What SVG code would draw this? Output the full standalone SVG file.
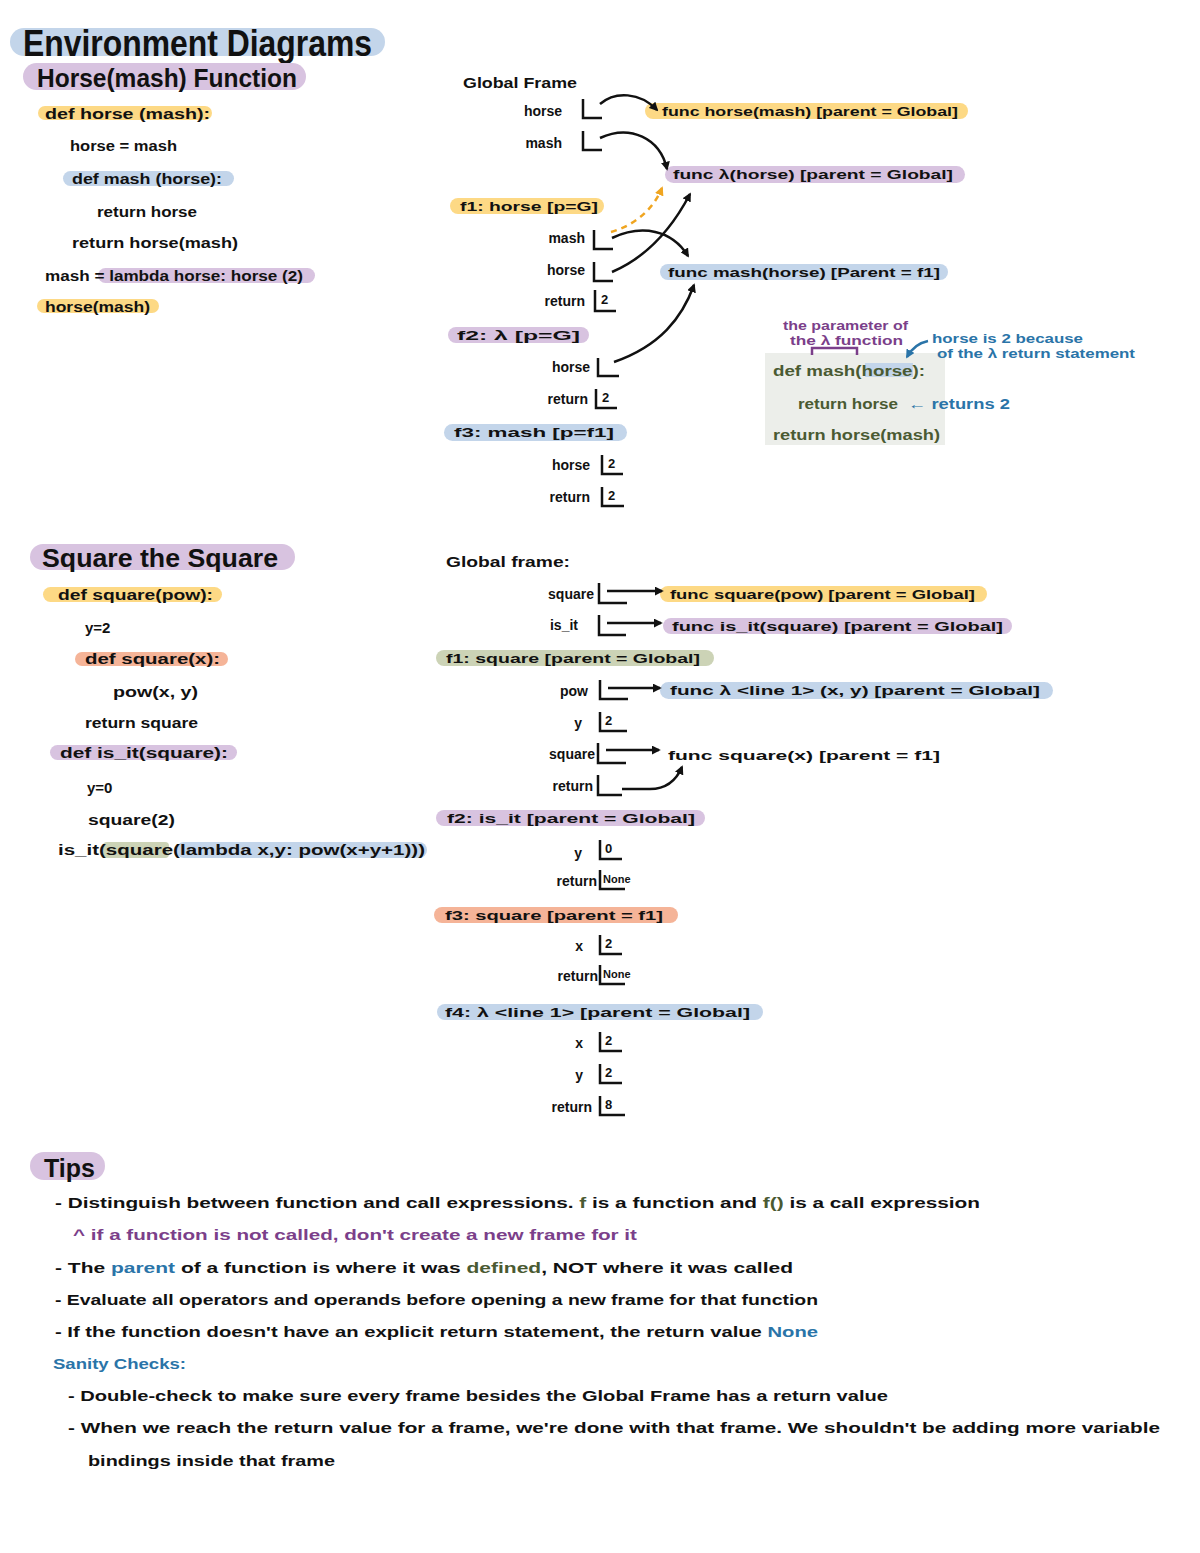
<svg xmlns="http://www.w3.org/2000/svg" width="1200" height="1553" viewBox="0 0 1200 1553">
<defs>
<style>
.t{font-family:"Liberation Sans","DejaVu Sans",Arial,sans-serif;font-weight:bold;fill:#111;font-size:14px}
.s{font-size:13px}
.v{font-size:13px}
.f11{font-size:11px}.f12{font-size:12px}.f15{font-size:15px}.f25{font-size:25px}.f26{font-size:26px}.f36{font-size:36px}
.hb{fill:#c3d5ea}.hp{fill:#d8c3e0}.ho{fill:#fdd985}.hs{fill:#f5b498}.hg{fill:#ccd3b6}
.box{fill:none;stroke:#111;stroke-width:2.5}
.arr{fill:none;stroke:#111;stroke-width:2.5;marker-end:url(#ah)}
.pu{fill:#7b3f8a}.bl{fill:#2a74a8}.gr{fill:#4a5a32}
</style>
<marker id="ah" viewBox="0 0 10 10" refX="8" refY="5" markerWidth="9" markerHeight="9" markerUnits="userSpaceOnUse" orient="auto"><path d="M0,0 L10,5 L0,10 z" fill="#111"/></marker>
<marker id="aho" viewBox="0 0 10 10" refX="8" refY="5" markerWidth="9" markerHeight="9" markerUnits="userSpaceOnUse" orient="auto"><path d="M0,0 L10,5 L0,10 z" fill="#f0a520"/></marker>
<marker id="ahb" viewBox="0 0 10 10" refX="8" refY="5" markerWidth="9" markerHeight="9" markerUnits="userSpaceOnUse" orient="auto"><path d="M0,0 L10,5 L0,10 z" fill="#2a74a8"/></marker>
</defs>
<rect width="1200" height="1553" fill="#fff"/>

<g id="title">
<rect class="hb" x="10" y="28" width="375" height="28" rx="14"/>
<text class="t f36" x="23" y="56" textLength="349" lengthAdjust="spacingAndGlyphs">Environment Diagrams</text>
<rect class="hp" x="23" y="63" width="283" height="27" rx="13.5"/>
<text class="t f25" x="37" y="87" textLength="260" lengthAdjust="spacingAndGlyphs">Horse(mash) Function</text>
</g>

<g id="code-horse">
<rect class="ho" x="38" y="106" width="174" height="14" rx="7"/>
<text class="t" x="45" y="119" textLength="165" lengthAdjust="spacingAndGlyphs">def horse (mash):</text>
<text class="t" x="70" y="151" textLength="107" lengthAdjust="spacingAndGlyphs">horse = mash</text>
<rect class="hb" x="63" y="171" width="171" height="15" rx="7.5"/>
<text class="t" x="72" y="184" textLength="150" lengthAdjust="spacingAndGlyphs">def mash (horse):</text>
<text class="t" x="97" y="217" textLength="100" lengthAdjust="spacingAndGlyphs">return horse</text>
<text class="t" x="72" y="248" textLength="166" lengthAdjust="spacingAndGlyphs">return horse(mash)</text>
<rect class="hp" x="98" y="268" width="217" height="15" rx="7.5"/>
<text class="t" x="45" y="281" textLength="258" lengthAdjust="spacingAndGlyphs">mash = lambda horse: horse (2)</text>
<rect class="ho" x="37" y="299" width="122" height="14" rx="7"/>
<text class="t" x="45" y="312" textLength="105" lengthAdjust="spacingAndGlyphs">horse(mash)</text>
</g>

<g id="global-frame-1">
<text class="t" x="463" y="88" textLength="114" lengthAdjust="spacingAndGlyphs">Global Frame</text>
<text class="t" x="562" y="116" text-anchor="end">horse</text>
<path class="box" d="M583,99 V118 H602"/>
<text class="t" x="562" y="148" text-anchor="end">mash</text>
<path class="box" d="M583,131 V150 H602"/>
</g>
<g id="func-horse">
<rect class="ho" x="645" y="103" width="323" height="16" rx="8"/>
<text class="t s" x="662" y="116" textLength="296" lengthAdjust="spacingAndGlyphs">func horse(mash) [parent = Global]</text>
</g>
<g id="func-lambda">
<rect class="hp" x="665" y="166" width="300" height="17" rx="8.5"/>
<text class="t s" x="673" y="179" textLength="280" lengthAdjust="spacingAndGlyphs">func λ(horse) [parent = Global]</text>
</g>
<g id="func-mash">
<rect class="hb" x="660" y="264" width="288" height="16" rx="8"/>
<text class="t s" x="668" y="277" textLength="272" lengthAdjust="spacingAndGlyphs">func mash(horse) [Parent = f1]</text>
</g>

<g id="frame-f1-top">
<rect class="ho" x="450" y="198" width="154" height="16" rx="8"/>
<text class="t s" x="460" y="211" textLength="138" lengthAdjust="spacingAndGlyphs">f1: horse [p=G]</text>
<text class="t" x="585" y="243" text-anchor="end">mash</text>
<path class="box" d="M594,230 V249 H613"/>
<text class="t" x="585" y="275" text-anchor="end">horse</text>
<path class="box" d="M594,262 V281 H613"/>
<text class="t" x="585" y="306" text-anchor="end">return</text>
<path class="box" d="M595,290 V311 H616"/>
<text class="t v" x="601" y="304">2</text>
</g>
<g id="frame-f2-top">
<rect class="hp" x="448" y="327" width="141" height="16" rx="8"/>
<text class="t s" x="457" y="340" textLength="123" lengthAdjust="spacingAndGlyphs">f2: λ [p=G]</text>
<text class="t" x="590" y="372" text-anchor="end">horse</text>
<path class="box" d="M598,358 V376 H619"/>
<text class="t" x="588" y="404" text-anchor="end">return</text>
<path class="box" d="M596,389 V408 H617"/>
<text class="t v" x="602" y="402">2</text>
</g>
<g id="frame-f3-top">
<rect class="hb" x="444" y="424" width="183" height="17" rx="8.5"/>
<text class="t s" x="454" y="437" textLength="160" lengthAdjust="spacingAndGlyphs">f3: mash [p=f1]</text>
<text class="t" x="590" y="470" text-anchor="end">horse</text>
<path class="box" d="M602,455 V474 H623"/>
<text class="t v" x="608" y="468">2</text>
<text class="t" x="590" y="502" text-anchor="end">return</text>
<path class="box" d="M602,487 V506 H624"/>
<text class="t v" x="608" y="500">2</text>
</g>

<g id="annotation">
<rect x="765" y="353" width="180" height="92" fill="#eceeea"/>
<text class="t pu f12" x="783" y="330" textLength="125" lengthAdjust="spacingAndGlyphs">the parameter of</text>
<text class="t pu f12" x="790" y="345" textLength="113" lengthAdjust="spacingAndGlyphs">the λ function</text>
<path d="M812,355 V348 H857 V355" fill="none" stroke="#7b3f8a" stroke-width="2.5"/>
<rect class="hb" x="865" y="363" width="48" height="14"/>
<text class="t gr" x="773" y="376" textLength="152" lengthAdjust="spacingAndGlyphs">def mash(horse):</text>
<text class="t gr" x="798" y="409" textLength="100" lengthAdjust="spacingAndGlyphs">return horse</text>
<text class="t bl" x="908" y="409" textLength="102" lengthAdjust="spacingAndGlyphs">← returns 2</text>
<text class="t gr" x="773" y="440" textLength="167" lengthAdjust="spacingAndGlyphs">return horse(mash)</text>
<text class="t bl f12" x="932" y="343" textLength="151" lengthAdjust="spacingAndGlyphs">horse is 2 because</text>
<text class="t bl f12" x="937" y="358" textLength="198" lengthAdjust="spacingAndGlyphs">of the λ return statement</text>
</g>

<g id="section-square">
<rect class="hp" x="30" y="544" width="265" height="26" rx="13"/>
<text class="t f26" x="42" y="567" textLength="236" lengthAdjust="spacingAndGlyphs">Square the Square</text>
<rect class="ho" x="43" y="587" width="179" height="15" rx="7.5"/>
<text class="t" x="58" y="600" textLength="155" lengthAdjust="spacingAndGlyphs">def square(pow):</text>
<text class="t f15" x="85" y="633">y=2</text>
<rect class="hs" x="75" y="652" width="153" height="14" rx="7"/>
<text class="t" x="85" y="664" textLength="135" lengthAdjust="spacingAndGlyphs">def square(x):</text>
<text class="t" x="113" y="697" textLength="85" lengthAdjust="spacingAndGlyphs">pow(x, y)</text>
<text class="t" x="85" y="728" textLength="113" lengthAdjust="spacingAndGlyphs">return square</text>
<rect class="hp" x="50" y="745" width="187" height="15" rx="7.5"/>
<text class="t" x="60" y="758" textLength="168" lengthAdjust="spacingAndGlyphs">def is_it(square):</text>
<text class="t f15" x="87" y="793">y=0</text>
<text class="t" x="88" y="825" textLength="87" lengthAdjust="spacingAndGlyphs">square(2)</text>
<rect class="hg" x="103" y="842" width="66" height="16" rx="4"/>
<rect class="hb" x="176" y="842" width="251" height="16" rx="8"/>
<text class="t" x="58" y="855" textLength="367" lengthAdjust="spacingAndGlyphs">is_it(square(lambda x,y: pow(x+y+1)))</text>
</g>

<g id="global-frame-2">
<text class="t" x="446" y="567" textLength="124" lengthAdjust="spacingAndGlyphs">Global frame:</text>
<text class="t" x="594" y="599" text-anchor="end">square</text>
<path class="box" d="M599,583 V603 H627"/>
<text class="t" x="578" y="630" text-anchor="end">is_it</text>
<path class="box" d="M599,615 V635 H626"/>
</g>
<g id="func-square-pow">
<rect class="ho" x="660" y="586" width="327" height="16" rx="8"/>
<text class="t s" x="670" y="599" textLength="305" lengthAdjust="spacingAndGlyphs">func square(pow) [parent = Global]</text>
</g>
<g id="func-is-it">
<rect class="hp" x="663" y="618" width="349" height="16" rx="8"/>
<text class="t s" x="672" y="631" textLength="331" lengthAdjust="spacingAndGlyphs">func is_it(square) [parent = Global]</text>
</g>
<g id="func-lambda-line1">
<rect class="hb" x="660" y="682" width="393" height="17" rx="8.5"/>
<text class="t s" x="670" y="695" textLength="370" lengthAdjust="spacingAndGlyphs">func λ &lt;line 1&gt; (x, y) [parent = Global]</text>
</g>
<g id="func-square-x">
<text class="t s" x="668" y="760" textLength="272" lengthAdjust="spacingAndGlyphs">func square(x) [parent = f1]</text>
</g>

<g id="frame-f1-square">
<rect class="hg" x="436" y="650" width="278" height="16" rx="8"/>
<text class="t s" x="446" y="663" textLength="254" lengthAdjust="spacingAndGlyphs">f1: square [parent = Global]</text>
<text class="t" x="588" y="696" text-anchor="end">pow</text>
<path class="box" d="M600,680 V699 H628"/>
<text class="t" x="582" y="728" text-anchor="end">y</text>
<path class="box" d="M600,712 V731 H627"/>
<text class="t v" x="605" y="725">2</text>
<text class="t" x="595" y="759" text-anchor="end">square</text>
<path class="box" d="M598,743 V763 H626"/>
<text class="t" x="593" y="791" text-anchor="end">return</text>
<path class="box" d="M598,775 V795 H622"/>
</g>
<g id="frame-f2-is-it">
<rect class="hp" x="436" y="810" width="269" height="16" rx="8"/>
<text class="t s" x="447" y="823" textLength="248" lengthAdjust="spacingAndGlyphs">f2: is_it [parent = Global]</text>
<text class="t" x="582" y="858" text-anchor="end">y</text>
<path class="box" d="M600,840 V859 H622"/>
<text class="t v" x="605" y="853">0</text>
<text class="t" x="597" y="886" text-anchor="end">return</text>
<path class="box" d="M600,870 V889 H625"/>
<text class="t f11" x="603" y="883">None</text>
</g>
<g id="frame-f3-square">
<rect class="hs" x="434" y="907" width="244" height="16" rx="8"/>
<text class="t s" x="445" y="920" textLength="218" lengthAdjust="spacingAndGlyphs">f3: square [parent = f1]</text>
<text class="t" x="583" y="951" text-anchor="end">x</text>
<path class="box" d="M600,935 V954 H622"/>
<text class="t v" x="605" y="948">2</text>
<text class="t" x="598" y="981" text-anchor="end">return</text>
<path class="box" d="M600,965 V984 H625"/>
<text class="t f11" x="603" y="978">None</text>
</g>
<g id="frame-f4-lambda">
<rect class="hb" x="437" y="1004" width="326" height="16" rx="8"/>
<text class="t s" x="445" y="1017" textLength="305" lengthAdjust="spacingAndGlyphs">f4: λ &lt;line 1&gt; [parent = Global]</text>
<text class="t" x="583" y="1048" text-anchor="end">x</text>
<path class="box" d="M600,1032 V1051 H622"/>
<text class="t v" x="605" y="1045">2</text>
<text class="t" x="583" y="1080" text-anchor="end">y</text>
<path class="box" d="M600,1064 V1083 H622"/>
<text class="t v" x="605" y="1077">2</text>
<text class="t" x="592" y="1112" text-anchor="end">return</text>
<path class="box" d="M600,1096 V1115 H625"/>
<text class="t v" x="605" y="1109">8</text>
</g>

<g id="connectors">
<path class="arr" d="M600,104 C615,91 640,92 657,110"/>
<path class="arr" d="M600,138 C630,124 660,138 667,169"/>
<path d="M611,232 C632,226 652,212 662,188" fill="none" stroke="#f0a520" stroke-width="2.5" stroke-dasharray="6,5" marker-end="url(#aho)"/>
<path class="arr" d="M612,238 C642,224 672,230 688,256"/>
<path class="arr" d="M612,272 C640,260 668,236 690,194"/>
<path class="arr" d="M614,362 C660,346 682,318 694,285"/>
<path d="M928,341 C918,343 912,348 907,357" fill="none" stroke="#2a74a8" stroke-width="2.5" marker-end="url(#ahb)"/>
<path class="arr" d="M607,591 H662"/>
<path class="arr" d="M607,623 H661"/>
<path class="arr" d="M608,688 H660"/>
<path class="arr" d="M606,750 H659"/>
<path class="arr" d="M622,789 H650 C666,789 676,781 682,767"/>
</g>

<g id="tips">
<rect class="hp" x="30" y="1152" width="75" height="28" rx="14"/>
<text class="t f25" x="44" y="1177">Tips</text>
<text class="t f15" x="55" y="1208" textLength="925" lengthAdjust="spacingAndGlyphs">- Distinguish between function and call expressions. <tspan class="gr">f</tspan> is a function and <tspan class="gr">f()</tspan> is a call expression</text>
<text class="t pu f15" x="73" y="1240" textLength="564" lengthAdjust="spacingAndGlyphs">^ if a function is not called, don't create a new frame for it</text>
<text class="t f15" x="55" y="1273" textLength="738" lengthAdjust="spacingAndGlyphs">- The <tspan class="bl">parent</tspan> of a function is where it was <tspan class="gr">defined</tspan>, NOT where it was called</text>
<text class="t f15" x="55" y="1305" textLength="763" lengthAdjust="spacingAndGlyphs">- Evaluate all operators and operands before opening a new frame for that function</text>
<text class="t f15" x="55" y="1337" textLength="763" lengthAdjust="spacingAndGlyphs">- If the function doesn't have an explicit return statement, the return value <tspan class="bl">None</tspan></text>
<text class="t bl f15" x="53" y="1369" textLength="133" lengthAdjust="spacingAndGlyphs">Sanity Checks:</text>
<text class="t f15" x="68" y="1401" textLength="820" lengthAdjust="spacingAndGlyphs">- Double-check to make sure every frame besides the Global Frame has a return value</text>
<text class="t f15" x="68" y="1433" textLength="1092" lengthAdjust="spacingAndGlyphs">- When we reach the return value for a frame, we're done with that frame. We shouldn't be adding more variable</text>
<text class="t f15" x="88" y="1466" textLength="247" lengthAdjust="spacingAndGlyphs">bindings inside that frame</text>
</g>
</svg>
